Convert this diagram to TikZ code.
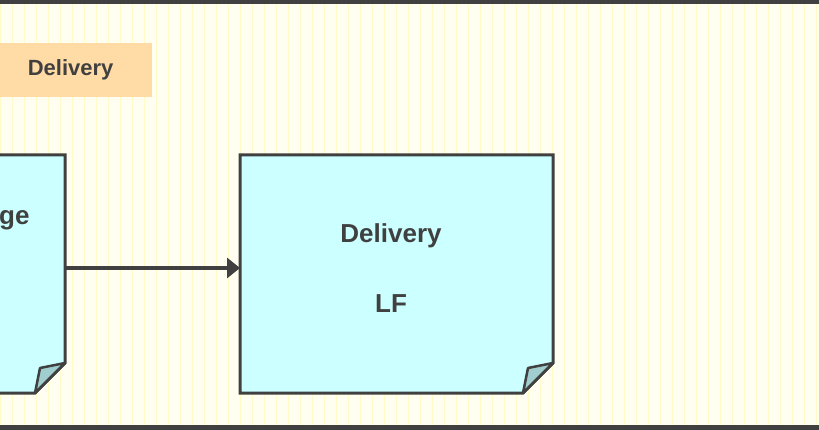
\documentclass[tikz,border=0pt]{standalone}
\usepackage{fontspec}
\setmainfont{Liberation Sans}
\usetikzlibrary{arrows.meta}
\definecolor{dk}{RGB}{64,64,64}
\definecolor{cy}{RGB}{204,255,255}
\definecolor{fold}{RGB}{160,205,205}
\definecolor{gr}{RGB}{255,250,200}
\definecolor{bn}{RGB}{255,220,165}
\tikzset{x=1pt,y=-1pt,
  note/.style={draw=dk,line width=3pt,fill=cy,line join=miter},
  foldtri/.style={draw=dk,line width=2.5pt,fill=fold,line join=round},
  lbl/.style={text=dk,font=\bfseries\fontsize{26}{30}\selectfont}}
\begin{document}
\begin{tikzpicture}
\useasboundingbox (0,0) rectangle (819,430);
\fill[white!85!yellow!40] (0,0) rectangle (819,430);
\draw[gr,line width=0.8pt,step=12] (0,0) grid (819,430);
\fill[dk] (0,0) rectangle (819,4);
\fill[dk] (0,425) rectangle (819,430);
\fill[bn] (0,43) rectangle (152,97);
\node[lbl,font=\bfseries\fontsize{22}{26}\selectfont,anchor=east] (ban) at (117,70) {Delivery};
% left box
\draw[note] (-10,155) -- (65,155) -- (65,363) -- (35,393) -- (-10,393);
\draw[foldtri] (35,393) -- (40,368) -- (65,363) -- cycle;
\coordinate (lb) at (65,268);
\node[lbl,anchor=east] (lt) at (33,220) {ge};
% right box
\draw[note] (240,155) -- (553,155) -- (553,363) -- (523,393) -- (240,393) -- cycle;
\draw[foldtri] (523,393) -- (528,368) -- (553,363) -- cycle;
\coordinate (rb) at (240,268);
\node[lbl] (r1) at (391,236) {Delivery};
\node[lbl] (r2) at (391,304) {LF};
\draw[dk,line width=4pt,-{Triangle[length=13pt,width=20pt]}] (lb) -- (rb);
\end{tikzpicture}
\end{document}
